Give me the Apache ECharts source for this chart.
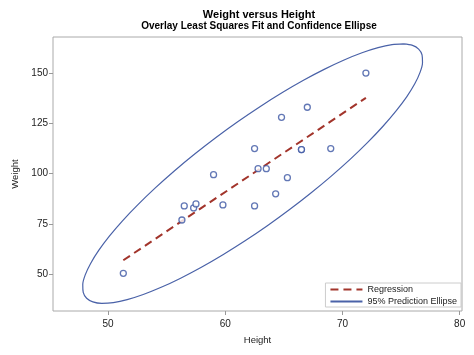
<!DOCTYPE html>
<html>
<head>
<meta charset="utf-8">
<script src="https://cdn.jsdelivr.net/npm/echarts@6/dist/echarts.min.js"></script>
<style>html,body{margin:0;padding:0;background:#fff}#c{width:474px;height:355px}</style>
</head>
<body>
<div id="c"></div>
<script>
// Observations (Height, Weight)
const heights = [69.0, 56.5, 65.3, 62.8, 63.5, 57.3, 59.8, 62.5, 62.5, 59.0, 51.3, 64.3, 56.3, 66.5, 72.0, 64.8, 67.0, 57.5, 66.5];
const weights = [112.5, 84.0, 98.0, 102.5, 102.5, 83.0, 84.5, 112.5, 84.0, 99.5, 50.5, 90.0, 77.0, 112.0, 150.0, 128.0, 133.0, 85.0, 112.0];
// Regression line endpoints
const regX = [51.3, 72.0];
const regY = [57.0, 137.7];
// 95% prediction ellipse outline points
const ellX = [75.21, 75.98, 76.50, 76.79, 76.83, 76.62, 76.17, 75.48, 74.56, 73.44, 72.13, 70.65, 69.02,
              67.28, 65.46, 63.59, 61.69, 59.80, 57.96, 56.19, 54.53, 53.00, 51.63, 50.45, 49.46,
              48.70, 48.17, 47.88, 47.84, 48.05, 48.51, 49.20, 50.11, 51.23, 52.55, 54.03, 55.65,
              57.39, 59.21, 61.09, 62.99, 64.87, 66.71, 68.48, 70.14, 71.67, 73.04, 74.23, 75.21];
const ellY = [164.45, 163.73, 161.91, 159.04, 155.15, 150.33, 144.64, 138.19, 131.08, 123.45, 115.41, 107.11, 98.69,
              90.29, 82.06, 74.14, 66.66, 59.75, 53.53, 48.10, 43.56, 39.99, 37.45, 35.98, 35.60,
              36.33, 38.14, 41.02, 44.90, 49.73, 55.42, 61.87, 68.97, 76.61, 84.64, 92.94, 101.36,
              109.76, 117.99, 125.92, 133.40, 140.31, 146.53, 151.95, 156.49, 160.06, 162.60, 164.08, 164.45];
const xTicks = [50, 60, 70, 80];
const yTicks = [50, 75, 100, 125, 150];

const chart = echarts.init(document.getElementById('c'));
const font = '"Liberation Sans", Arial, sans-serif';
chart.setOption({
  animation: false,
  textStyle: { fontFamily: font },
  title: [
    { text: 'Weight versus Height', left: 259, top: 9, padding: 0, textAlign: 'center',
      textStyle: { fontSize: 11, fontWeight: 'bold', color: '#000', fontFamily: font } },
    { text: 'Overlay Least Squares Fit and Confidence Ellipse', left: 259, top: 21, padding: 0, textAlign: 'center',
      textStyle: { fontSize: 10, fontWeight: 'bold', color: '#000', fontFamily: font } }
  ],
  grid: { left: 53, right: 12, top: 37, bottom: 44, show: true, borderColor: '#aaa', borderWidth: 1, backgroundColor: 'transparent' },
  xAxis: {
    type: 'value', min: 45.3, max: 80.2,
    name: 'Height', nameLocation: 'middle', nameGap: 24,
    nameTextStyle: { fontSize: 9.5, color: '#222', fontFamily: font },
    axisLine: { show: false },
    splitLine: { show: false },
    axisTick: { show: true, length: 4, customValues: xTicks, lineStyle: { color: '#999' } },
    axisLabel: { customValues: xTicks, fontSize: 10, color: '#222', margin: 8, fontFamily: font }
  },
  yAxis: {
    type: 'value', min: 31.8, max: 167.9,
    name: 'Weight', nameLocation: 'middle', nameGap: 30, nameRotate: 90,
    nameTextStyle: { fontSize: 9.5, color: '#222', fontFamily: font },
    axisLine: { show: false },
    splitLine: { show: false },
    axisTick: { show: true, length: 4, customValues: yTicks, lineStyle: { color: '#999' } },
    axisLabel: { customValues: yTicks, fontSize: 10, color: '#222', margin: 5, fontFamily: font }
  },
  legend: {
    orient: 'vertical', right: 13, bottom: 48,
    backgroundColor: '#fff', borderColor: '#ccc', borderWidth: 1,
    padding: [2, 4, 1, 4], itemGap: 3, itemWidth: 32, itemHeight: 10,
    itemStyle: { opacity: 0 },
    textStyle: { fontSize: 9, color: '#222', fontFamily: font },
    data: ['Regression', '95% Prediction Ellipse']
  },
  series: [
    {
      name: 'Regression', type: 'line', symbol: 'none',
      data: regX.map((x, i) => [x, regY[i]]),
      lineStyle: { color: '#A2342B', width: 2, type: [8, 5] },
      itemStyle: { color: '#A2342B' }, z: 3
    },
    {
      name: '95% Prediction Ellipse', type: 'line', symbol: 'none', smooth: 0.3,
      data: ellX.map((x, i) => [x, ellY[i]]),
      lineStyle: { color: '#4A62A8', width: 1.2 },
      itemStyle: { color: '#4A62A8' }, z: 2
    },
    {
      name: 'Observations', type: 'scatter', symbol: 'circle', symbolSize: 6,
      data: heights.map((h, i) => [h, weights[i]]),
      itemStyle: { color: '#fff', borderColor: '#3B55A3', borderWidth: 1.3 }, z: 4
    }
  ]
});
</script>
</body>
</html>
